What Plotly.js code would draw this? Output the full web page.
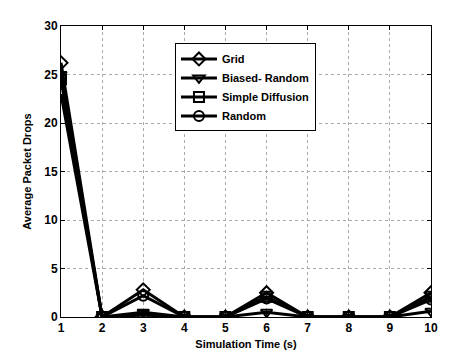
<!DOCTYPE html>
<html>
<head>
<meta charset="utf-8">
<script src="https://cdn.plot.ly/plotly-3.0.1.min.js"></script>
<style>
  html, body { margin: 0; padding: 0; background: #fff; }
  #chart { width: 474px; height: 356px; }
</style>
</head>
<body>
<div id="chart"></div>
<script>
// Simulation time steps (s)
const time = [1, 2, 3, 4, 5, 6, 7, 8, 9, 10];

// Average packet drops per scheme
const grid = [26.2, 0, 2.8, 0, 0, 2.5, 0, 0, 0, 2.5];
const biasedRandom = [25.0, 0, 0.5, 0, 0, 0.5, 0, 0, 0, 0.6];
const simpleDiffusion = [24.5, 0, 0.2, 0, 0, 2.1, 0, 0, 0, 2.1];
const random = [23.0, 0, 2.2, 0, 0, 1.9, 0, 0, 0, 1.8];

const seriesNames = ['Grid', 'Biased- Random', 'Simple Diffusion', 'Random'];
const seriesValues = [grid, biasedRandom, simpleDiffusion, random];
const markerSymbols = ['diamond-open', 'triangle-down-open', 'square-open', 'circle-open'];

const xTicks = [1, 2, 3, 4, 5, 6, 7, 8, 9, 10];
const yTicks = [0, 5, 10, 15, 20, 25, 30];

const traces = seriesValues.map((vals, i) => ({
  x: time,
  y: vals,
  name: seriesNames[i],
  type: 'scatter',
  mode: 'lines+markers',
  line: { color: '#000', width: 3 },
  marker: { symbol: markerSymbols[i], size: 10, color: '#000', line: { color: '#000', width: 2 } }
}));

const tickFont = { family: 'Liberation Sans, Arial, sans-serif', size: 12, color: '#000', weight: 'bold' };
const titleFont = { family: 'Liberation Sans, Arial, sans-serif', size: 11, color: '#000', weight: 'bold' };

const layout = {
  width: 474,
  height: 356,
  margin: { l: 61, r: 43, t: 26, b: 39 },
  paper_bgcolor: '#fff',
  plot_bgcolor: '#fff',
  showlegend: true,
  legend: {
    x: 0.308, y: 0.94, xanchor: 'left', yanchor: 'top',
    bgcolor: '#fff', bordercolor: '#000', borderwidth: 1,
    font: { family: 'Liberation Sans, Arial, sans-serif', size: 11, color: '#000', weight: 'bold' },
    tracegroupgap: 0, itemwidth: 36
  },
  xaxis: {
    range: [1, 10],
    tickvals: xTicks,
    ticktext: xTicks.map(String),
    ticks: 'inside', ticklen: 4, tickcolor: '#000',
    showline: true, linecolor: '#000', linewidth: 1, mirror: 'ticks',
    showgrid: true, gridcolor: '#aaa', griddash: 'dot', gridwidth: 1,
    zeroline: false,
    tickfont: tickFont,
    title: { text: 'Simulation Time (s)', font: titleFont, standoff: 5 }
  },
  yaxis: {
    range: [0, 30],
    tickvals: yTicks,
    ticktext: yTicks.map(String),
    ticks: 'inside', ticklen: 4, tickcolor: '#000',
    showline: true, linecolor: '#000', linewidth: 1, mirror: 'ticks',
    showgrid: true, gridcolor: '#aaa', griddash: 'dot', gridwidth: 1,
    zeroline: false,
    tickfont: tickFont,
    title: { text: 'Average Packet Drops', font: titleFont, standoff: 10 }
  }
};

Plotly.newPlot('chart', traces, layout, { staticPlot: true, displayModeBar: false });
</script>
</body>
</html>
